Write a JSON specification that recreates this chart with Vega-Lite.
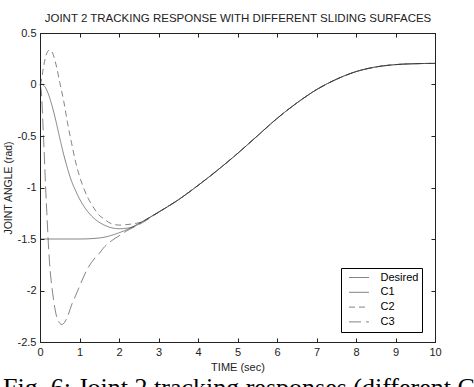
{
  "$schema": "https://vega.github.io/schema/vega-lite/v6.json",
  "width": 395,
  "height": 309,
  "autosize": {"type": "none"},
  "padding": {"left": 40, "top": 33, "right": 39, "bottom": 45},
  "background": "white",
  "config": {
    "view": {"stroke": "#222", "strokeWidth": 1},
    "font": "Liberation Sans"
  },
  "title": {
    "text": "Fig. 6: Joint 2 tracking responses (different C",
    "orient": "bottom",
    "anchor": "start",
    "frame": "bounds",
    "font": "Liberation Serif",
    "fontSize": 26,
    "fontWeight": "normal",
    "color": "#000",
    "offset": 3
  },
  "data": {
    "values": [
      {"t": 0, "v": -1.5, "s": "Desired"},
      {"t": 0.5, "v": -1.5, "s": "Desired"},
      {"t": 1, "v": -1.5, "s": "Desired"},
      {"t": 1.5, "v": -1.49, "s": "Desired"},
      {"t": 2, "v": -1.44, "s": "Desired"},
      {"t": 2.25, "v": -1.4, "s": "Desired"},
      {"t": 2.5, "v": -1.35, "s": "Desired"},
      {"t": 3, "v": -1.24, "s": "Desired"},
      {"t": 3.5, "v": -1.12, "s": "Desired"},
      {"t": 4, "v": -0.98, "s": "Desired"},
      {"t": 4.5, "v": -0.83, "s": "Desired"},
      {"t": 5, "v": -0.67, "s": "Desired"},
      {"t": 5.5, "v": -0.5, "s": "Desired"},
      {"t": 6, "v": -0.33, "s": "Desired"},
      {"t": 6.5, "v": -0.18, "s": "Desired"},
      {"t": 7, "v": -0.05, "s": "Desired"},
      {"t": 7.5, "v": 0.05, "s": "Desired"},
      {"t": 8, "v": 0.125, "s": "Desired"},
      {"t": 8.5, "v": 0.17, "s": "Desired"},
      {"t": 9, "v": 0.193, "s": "Desired"},
      {"t": 9.5, "v": 0.202, "s": "Desired"},
      {"t": 10, "v": 0.205, "s": "Desired"},

      {"t": 0, "v": 0.01, "s": "C1"},
      {"t": 0.1, "v": -0.01, "s": "C1"},
      {"t": 0.2, "v": -0.08, "s": "C1"},
      {"t": 0.3, "v": -0.2, "s": "C1"},
      {"t": 0.4, "v": -0.35, "s": "C1"},
      {"t": 0.5, "v": -0.52, "s": "C1"},
      {"t": 0.6, "v": -0.68, "s": "C1"},
      {"t": 0.7, "v": -0.82, "s": "C1"},
      {"t": 0.8, "v": -0.94, "s": "C1"},
      {"t": 0.9, "v": -1.03, "s": "C1"},
      {"t": 1.0, "v": -1.11, "s": "C1"},
      {"t": 1.2, "v": -1.23, "s": "C1"},
      {"t": 1.4, "v": -1.31, "s": "C1"},
      {"t": 1.6, "v": -1.36, "s": "C1"},
      {"t": 1.8, "v": -1.39, "s": "C1"},
      {"t": 2.0, "v": -1.4, "s": "C1"},
      {"t": 2.2, "v": -1.395, "s": "C1"},
      {"t": 2.4, "v": -1.375, "s": "C1"},
      {"t": 2.6, "v": -1.33, "s": "C1"},
      {"t": 3, "v": -1.24, "s": "C1"},
      {"t": 3.5, "v": -1.12, "s": "C1"},
      {"t": 4, "v": -0.98, "s": "C1"},
      {"t": 4.5, "v": -0.83, "s": "C1"},
      {"t": 5, "v": -0.67, "s": "C1"},
      {"t": 5.5, "v": -0.5, "s": "C1"},
      {"t": 6, "v": -0.33, "s": "C1"},
      {"t": 6.5, "v": -0.18, "s": "C1"},
      {"t": 7, "v": -0.05, "s": "C1"},
      {"t": 7.5, "v": 0.05, "s": "C1"},
      {"t": 8, "v": 0.125, "s": "C1"},
      {"t": 8.5, "v": 0.17, "s": "C1"},
      {"t": 9, "v": 0.193, "s": "C1"},
      {"t": 9.5, "v": 0.202, "s": "C1"},
      {"t": 10, "v": 0.205, "s": "C1"},

      {"t": 0, "v": 0, "s": "C2"},
      {"t": 0.04, "v": 0.05, "s": "C2"},
      {"t": 0.08, "v": 0.15, "s": "C2"},
      {"t": 0.13, "v": 0.25, "s": "C2"},
      {"t": 0.18, "v": 0.31, "s": "C2"},
      {"t": 0.24, "v": 0.335, "s": "C2"},
      {"t": 0.3, "v": 0.32, "s": "C2"},
      {"t": 0.36, "v": 0.26, "s": "C2"},
      {"t": 0.42, "v": 0.17, "s": "C2"},
      {"t": 0.5, "v": 0.02, "s": "C2"},
      {"t": 0.6, "v": -0.16, "s": "C2"},
      {"t": 0.7, "v": -0.38, "s": "C2"},
      {"t": 0.8, "v": -0.57, "s": "C2"},
      {"t": 0.9, "v": -0.75, "s": "C2"},
      {"t": 1.0, "v": -0.89, "s": "C2"},
      {"t": 1.1, "v": -1.0, "s": "C2"},
      {"t": 1.2, "v": -1.09, "s": "C2"},
      {"t": 1.3, "v": -1.16, "s": "C2"},
      {"t": 1.4, "v": -1.22, "s": "C2"},
      {"t": 1.5, "v": -1.27, "s": "C2"},
      {"t": 1.6, "v": -1.3, "s": "C2"},
      {"t": 1.8, "v": -1.35, "s": "C2"},
      {"t": 2.0, "v": -1.365, "s": "C2"},
      {"t": 2.2, "v": -1.36, "s": "C2"},
      {"t": 2.4, "v": -1.35, "s": "C2"},
      {"t": 2.6, "v": -1.33, "s": "C2"},
      {"t": 2.8, "v": -1.285, "s": "C2"},
      {"t": 3, "v": -1.24, "s": "C2"},
      {"t": 3.5, "v": -1.12, "s": "C2"},
      {"t": 4, "v": -0.98, "s": "C2"},
      {"t": 4.5, "v": -0.83, "s": "C2"},
      {"t": 5, "v": -0.67, "s": "C2"},
      {"t": 5.5, "v": -0.5, "s": "C2"},
      {"t": 6, "v": -0.33, "s": "C2"},
      {"t": 6.5, "v": -0.18, "s": "C2"},
      {"t": 7, "v": -0.05, "s": "C2"},
      {"t": 7.5, "v": 0.05, "s": "C2"},
      {"t": 8, "v": 0.125, "s": "C2"},
      {"t": 8.5, "v": 0.17, "s": "C2"},
      {"t": 9, "v": 0.193, "s": "C2"},
      {"t": 9.5, "v": 0.202, "s": "C2"},
      {"t": 10, "v": 0.205, "s": "C2"},

      {"t": 0, "v": 0, "s": "C3"},
      {"t": 0.04, "v": -0.1, "s": "C3"},
      {"t": 0.07, "v": -0.35, "s": "C3"},
      {"t": 0.1, "v": -0.6, "s": "C3"},
      {"t": 0.14, "v": -0.98, "s": "C3"},
      {"t": 0.18, "v": -1.3, "s": "C3"},
      {"t": 0.22, "v": -1.6, "s": "C3"},
      {"t": 0.26, "v": -1.82, "s": "C3"},
      {"t": 0.3, "v": -1.96, "s": "C3"},
      {"t": 0.34, "v": -2.08, "s": "C3"},
      {"t": 0.4, "v": -2.22, "s": "C3"},
      {"t": 0.47, "v": -2.3, "s": "C3"},
      {"t": 0.55, "v": -2.33, "s": "C3"},
      {"t": 0.62, "v": -2.31, "s": "C3"},
      {"t": 0.7, "v": -2.25, "s": "C3"},
      {"t": 0.8, "v": -2.14, "s": "C3"},
      {"t": 0.9, "v": -2.05, "s": "C3"},
      {"t": 1.0, "v": -1.96, "s": "C3"},
      {"t": 1.1, "v": -1.87, "s": "C3"},
      {"t": 1.2, "v": -1.79, "s": "C3"},
      {"t": 1.3, "v": -1.73, "s": "C3"},
      {"t": 1.4, "v": -1.68, "s": "C3"},
      {"t": 1.5, "v": -1.64, "s": "C3"},
      {"t": 1.6, "v": -1.59, "s": "C3"},
      {"t": 1.8, "v": -1.52, "s": "C3"},
      {"t": 2.0, "v": -1.47, "s": "C3"},
      {"t": 2.2, "v": -1.42, "s": "C3"},
      {"t": 2.4, "v": -1.38, "s": "C3"},
      {"t": 2.6, "v": -1.34, "s": "C3"},
      {"t": 2.8, "v": -1.29, "s": "C3"},
      {"t": 3, "v": -1.24, "s": "C3"},
      {"t": 3.5, "v": -1.12, "s": "C3"},
      {"t": 4, "v": -0.98, "s": "C3"},
      {"t": 4.5, "v": -0.83, "s": "C3"},
      {"t": 5, "v": -0.67, "s": "C3"},
      {"t": 5.5, "v": -0.5, "s": "C3"},
      {"t": 6, "v": -0.33, "s": "C3"},
      {"t": 6.5, "v": -0.18, "s": "C3"},
      {"t": 7, "v": -0.05, "s": "C3"},
      {"t": 7.5, "v": 0.05, "s": "C3"},
      {"t": 8, "v": 0.125, "s": "C3"},
      {"t": 8.5, "v": 0.17, "s": "C3"},
      {"t": 9, "v": 0.193, "s": "C3"},
      {"t": 9.5, "v": 0.202, "s": "C3"},
      {"t": 10, "v": 0.205, "s": "C3"}
    ]
  },
  "layer": [
    {
      "mark": {"type": "line", "strokeWidth": 1, "opacity": 0.6, "interpolate": "monotone"},
      "encoding": {
        "x": {
          "field": "t", "type": "quantitative",
          "scale": {"domain": [0, 10], "nice": false, "zero": false},
          "axis": {
            "orient": "bottom",
            "values": [0, 1, 2, 3, 4, 5, 6, 7, 8, 9, 10],
            "grid": false,
            "tickSize": -4,
            "tickColor": "#222",
            "domainColor": "#222",
            "labelFontSize": 11,
            "labelColor": "#222",
            "labelPadding": 8,
            "labelFlush": false,
            "labelExpr": "'' + datum.value",
            "title": "TIME (sec)",
            "titleFontSize": 11,
            "titleFontWeight": "normal",
            "titleColor": "#222",
            "titlePadding": 4
          }
        },
        "y": {
          "field": "v", "type": "quantitative",
          "scale": {"domain": [-2.5, 0.5], "nice": false, "zero": false},
          "axis": {
            "orient": "left",
            "values": [-2.5, -2, -1.5, -1, -0.5, 0, 0.5],
            "grid": false,
            "tickSize": -4,
            "tickColor": "#222",
            "domainColor": "#222",
            "labelFontSize": 11,
            "labelColor": "#222",
            "labelPadding": 8,
            "labelFlush": false,
            "labelExpr": "'' + datum.value",
            "title": "JOINT ANGLE (rad)",
            "titleFontSize": 10.5,
            "titleFontWeight": "normal",
            "titleColor": "#222",
            "titlePadding": 4
          }
        },
        "color": {
          "field": "s", "type": "nominal",
          "scale": {"domain": ["Desired", "C1", "C2", "C3"], "range": ["#333", "#333", "#333", "#333"]},
          "legend": {
            "title": null,
            "orient": "none",
            "legendX": 301,
            "legendY": 235,
            "symbolType": "stroke",
            "symbolSize": 400,
            "symbolStrokeWidth": 1,
            "symbolOpacity": 0.6,
            "symbolOffset": 4,
            "labelOffset": 11,
            "labelFontSize": 11,
            "labelColor": "#000",
            "labelExpr": "datum.label + '   '",
            "padding": 3.5,
            "clipHeight": 12,
            "rowPadding": 2.8,
            "strokeColor": "#000",
            "fillColor": "#fff"
          }
        },
        "strokeDash": {
          "field": "s", "type": "nominal",
          "scale": {"domain": ["Desired", "C1", "C2", "C3"], "range": [[1, 0], [1, 0], [6, 4], [12, 5]]},
          "legend": {
            "title": null,
            "orient": "none",
            "legendX": 301,
            "legendY": 235,
            "symbolType": "stroke",
            "symbolSize": 400,
            "symbolStrokeWidth": 1,
            "symbolOpacity": 0.6,
            "symbolOffset": 4,
            "labelOffset": 11,
            "labelFontSize": 11,
            "labelColor": "#000",
            "labelExpr": "datum.label + '   '",
            "padding": 3.5,
            "clipHeight": 12,
            "rowPadding": 2.8,
            "strokeColor": "#000",
            "fillColor": "#fff"
          }
        }
      }
    },
    {
      "mark": {"type": "line", "strokeOpacity": 0},
      "encoding": {
        "x": {
          "field": "t", "type": "quantitative",
          "axis": {
            "orient": "top",
            "values": [0, 1, 2, 3, 4, 5, 6, 7, 8, 9, 10],
            "grid": false,
            "labels": false,
            "tickSize": -4,
            "tickColor": "#222",
            "domainColor": "#222",
            "title": "JOINT 2 TRACKING RESPONSE WITH DIFFERENT SLIDING SURFACES",
            "titleFontSize": 11.5,
            "titleFontWeight": "normal",
            "titleColor": "#222",
            "titlePadding": 9
          }
        },
        "y": {
          "field": "v", "type": "quantitative",
          "axis": {
            "orient": "right",
            "values": [-2.5, -2, -1.5, -1, -0.5, 0, 0.5],
            "grid": false,
            "labels": false,
            "tickSize": -4,
            "tickColor": "#222",
            "domainColor": "#222",
            "title": null
          }
        },
        "detail": {"field": "s", "type": "nominal"}
      }
    }
  ],
  "resolve": {"axis": {"x": "independent", "y": "independent"}}
}
